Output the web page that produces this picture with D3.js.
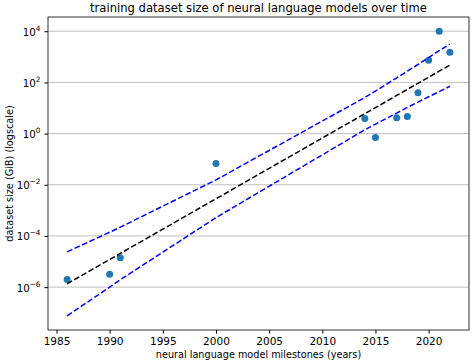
<!DOCTYPE html>
<html>
<head>
<meta charset="utf-8">
<script src="https://cdnjs.cloudflare.com/ajax/libs/d3/7.8.5/d3.min.js"></script>
<style>
  body { margin: 0; background: #fff; }
  text { font-family: "DejaVu Sans", sans-serif; fill: #000; }
</style>
</head>
<body>
<div id="chart"></div>
<script>
// milestone years and dataset sizes in GiB
var years = [1986, 1990, 1991, 2000, 2014, 2015, 2017, 2018, 2019, 2020, 2021, 2022];
var sizes = [2.0e-6, 3.2e-6, 1.4e-5, 0.068, 3.9, 0.7, 4.2, 4.7, 39, 730, 10000, 1500];

// fitted trend and band, same years
var fitValues = [1.35e-6, 1.2e-5, 2.07e-5, 2.84e-3, 5.98, 10.3, 30.9, 53.3, 92, 159, 275, 474];
var upperBand = [2.4e-5, 1.4e-4, 2.2e-4, 0.0155, 25.7, 45.7, 151, 275, 501, 933, 1738, 3162];
var lowerBand = [7.6e-8, 1.0e-6, 1.95e-6, 5.2e-4, 1.41, 2.34, 6.3, 10.5, 17, 27.5, 43.6, 70.8];

var xTicks = [1985, 1990, 1995, 2000, 2005, 2010, 2015, 2020];
var yTicks = [1e-6, 1e-4, 1e-2, 1, 1e2, 1e4];
var yTickExp = ["\u22126", "\u22124", "\u22122", "0", "2", "4"];

var w = 474,
    h = 363,
    padL = 48,
    padR = 469,
    padT = 17,
    padB = 330;

// matplotlib style 5% margins
var xr = d3.extent(years);
var xpad = (xr[1] - xr[0]) * 0.05;
var x = d3.scaleLinear()
    .domain([xr[0] - xpad, xr[1] + xpad])
    .range([padL, padR]);

var lmin = Math.log10(d3.min(lowerBand.concat(sizes)));
var lmax = Math.log10(d3.max(upperBand.concat(sizes)));
var ypad = (lmax - lmin) * 0.05;
var y = d3.scaleLog()
    .domain([Math.pow(10, lmin - ypad), Math.pow(10, lmax + ypad)])
    .range([padB, padT]);

var svg = d3.select("#chart").append("svg")
    .attr("width", w)
    .attr("height", h);

svg.append("rect")
    .attr("width", w)
    .attr("height", h)
    .style("fill", "#fff");

// horizontal grid
svg.selectAll("line.grid")
    .data(yTicks)
    .enter().append("line")
    .attr("class", "grid")
    .attr("x1", padL)
    .attr("x2", padR)
    .attr("y1", function(d) { return y(d); })
    .attr("y2", function(d) { return y(d); })
    .style("stroke", "#b0b0b0")
    .style("stroke-width", 0.8);

// scatter (drawn below the lines like matplotlib)
svg.selectAll("circle.pt")
    .data(years)
    .enter().append("circle")
    .attr("class", "pt")
    .attr("cx", function(d) { return x(d); })
    .attr("cy", function(d, i) { return y(sizes[i]); })
    .attr("r", 3.5)
    .style("fill", "#1f77b4");

function dashed(vals, color) {
  var line = d3.line()
      .x(function(d) { return x(d); })
      .y(function(d, i) { return y(vals[i]); });
  svg.append("path")
      .datum(years)
      .attr("d", line)
      .style("fill", "none")
      .style("stroke", color)
      .style("stroke-width", 1.5)
      .style("stroke-dasharray", "5.7,2.5");
}

dashed(fitValues, "#000");
dashed(upperBand, "#0000ff");
dashed(lowerBand, "#0000ff");

// axes
var xAxis = d3.axisBottom(x)
    .tickValues(xTicks)
    .tickSize(3.6)
    .tickPadding(3.6)
    .tickFormat(d3.format("d"));

var gx = svg.append("g")
    .attr("transform", "translate(0," + padB + ")")
    .call(xAxis);
gx.select(".domain").remove();
gx.selectAll("text")
    .style("font-family", "DejaVu Sans, sans-serif")
    .style("font-size", "10.5px")
    .style("fill", "#000");

var yAxis = d3.axisLeft(y)
    .tickValues(yTicks)
    .tickSize(3.6)
    .tickFormat("");

var gy = svg.append("g")
    .attr("transform", "translate(" + padL + ",0)")
    .call(yAxis);
gy.select(".domain").remove();

var ylab = svg.selectAll("text.ytick")
    .data(yTicks)
    .enter().append("text")
    .attr("class", "ytick")
    .attr("x", padL - 7.5)
    .attr("y", function(d) { return y(d) + 4.5; })
    .attr("text-anchor", "end")
    .style("font-size", "10.3px");
ylab.append("tspan")
    .text("10");
ylab.append("tspan")
    .attr("dy", -5)
    .style("font-size", "7.3px")
    .text(function(d, i) { return yTickExp[i]; });

// frame
svg.append("rect")
    .attr("x", padL)
    .attr("y", padT)
    .attr("width", padR - padL)
    .attr("height", padB - padT)
    .style("fill", "none")
    .style("stroke", "#000")
    .style("stroke-width", 0.8);

svg.append("text")
    .attr("x", (padL + padR) / 2)
    .attr("y", 12)
    .attr("text-anchor", "middle")
    .style("font-size", "11.6px")
    .text("training dataset size of neural language models over time");

svg.append("text")
    .attr("x", (padL + padR) / 2)
    .attr("y", 358)
    .attr("text-anchor", "middle")
    .style("font-size", "9.7px")
    .text("neural language model milestones (years)");

svg.append("text")
    .attr("transform", "translate(13," + (padT + padB) / 2 + ") rotate(-90)")
    .attr("text-anchor", "middle")
    .style("font-size", "9.7px")
    .text("dataset size (GiB) (logscale)");
</script>
</body>
</html>
